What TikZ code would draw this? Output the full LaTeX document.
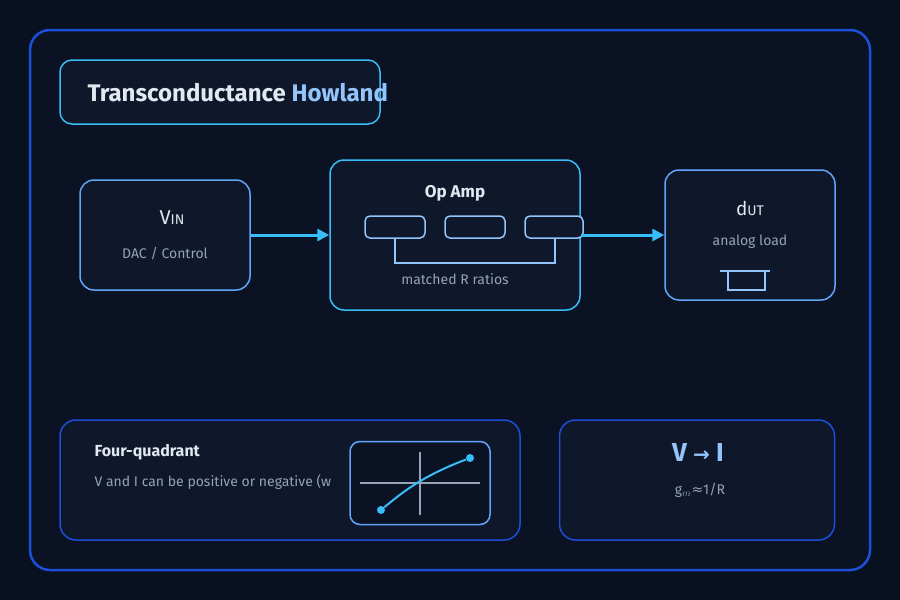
\documentclass[tikz,border=0pt]{standalone}
\usepackage{fontspec}
\setmainfont{Fira Sans}
\newfontfamily\symfont{DejaVu Sans}
\usetikzlibrary{positioning,calc,arrows.meta}
\definecolor{bgdark}{HTML}{08111F}
\definecolor{panel}{HTML}{0B1224}
\definecolor{card}{HTML}{0F172A}
\definecolor{edgeblue}{HTML}{1D4ED8}
\definecolor{sky}{HTML}{38BDF8}
\definecolor{lblue}{HTML}{60A5FA}
\definecolor{pale}{HTML}{93C5FD}
\definecolor{muted}{HTML}{94A3B8}
\definecolor{ink}{HTML}{E2E8F0}
\begin{document}
\begin{tikzpicture}[x=1pt, y=-1pt,
        card/.style={draw=lblue, fill=card, line width=1.5pt, rounded corners=14pt, inner sep=0pt},
        low/.style={draw=edgeblue, fill=card, line width=1.5pt, rounded corners=16pt, inner sep=0pt},
        res/.style={draw=pale, fill=card, line width=1.5pt, rounded corners=5pt, minimum width=60pt, minimum height=22pt, inner sep=0pt},
        head/.style={font=\bfseries\fontsize{17}{17}\selectfont, text=ink},
        sub/.style={font=\fontsize{14}{14}\selectfont, text=muted},
        flow/.style={-{Triangle[length=12pt,width=12pt]}, draw=sky, line width=3pt}
      ]

      \fill[bgdark] (0,0) rectangle (900,600);
      \draw[edgeblue, fill=panel, line width=2.5pt, rounded corners=20pt] (30,30) rectangle (870,570);

      % title
      \node (T) [draw=sky, fill=card, line width=1.5pt, rounded corners=12pt, minimum width=320pt, minimum height=64pt] at (220,92) {};
      \node (TT) [anchor=west, font=\bfseries\fontsize{24}{24}\selectfont, text=ink] at (84,93) {Transconductance \textcolor{pale}{Howland}};

      % signal chain
      \node (Vin) [card, minimum width=170pt, minimum height=110pt] at (165,235) {};
      \node (VinT) [head, font=\fontsize{20}{20}\selectfont] at (172,218) {V\fontsize{14}{14}\selectfont IN};
      \node (VinS) [sub] at (165,254) {DAC / Control};

      \node (OA) [card, draw=sky, minimum width=250pt, minimum height=150pt] at (455,235) {};
      \node (OAT) [head] at (455,193) {Op Amp};
      \node (R1) [res] at (395,227) {};
      \node (R2) [res] at (475,227) {};
      \node (R3) [res, minimum width=58pt] at (554,227) {};
      \draw[pale, line width=1.5pt] (R1.south) -- ++(0,24) -| ($(R3.south)+(1,0)$);
      \node (OAS) [sub] at (455,279) {matched R ratios};

      \node (DUT) [card, minimum width=170pt, minimum height=130pt] at (750,235) {};
      \node (DUTT) [head, font=\fontsize{19}{19}\selectfont] at (750,208) {d\fontsize{14}{14}\selectfont UT};
      \node (DUTS) [sub] at (750,242) {analog load};
      \coordinate (L1) at (720,271);
      \coordinate (L2) at (770,271);
      \draw[pale, line width=2pt] (L1) -- (L2) (728,271) -- (728,290) -- (765,290) -- (765,271);

      \draw[flow] (Vin.east) -- (OA.west);
      \draw[flow] (OA.east) -- (DUT.west);

      % bottom cards
      \node (FQ) [low, minimum width=460pt, minimum height=120pt] at (290,480) {};
      \node (FQT) [head, anchor=west, font=\bfseries\fontsize{16}{16}\selectfont] at (91,452) {Four-quadrant};
      \node (FQS) [sub, anchor=west] at (91,482) {V and I can be positive or negative (w};
      \node (G) [draw=lblue, fill=panel, line width=1.5pt, rounded corners=10pt, minimum width=140pt, minimum height=83pt] at (420,483) {};
      \draw[muted, line width=1.2pt] (360,483) -- (480,483) (420,452) -- (420,515);
      \node (P1) [circle, fill=sky, inner sep=0pt, minimum size=8pt] at (381,510) {};
      \node (P2) [circle, fill=sky, inner sep=0pt, minimum size=8pt] at (470,458) {};
      \draw[sky, line width=2pt] (P1) .. controls (405,490) and (425,475) .. (P2);

      \node (VI) [low, minimum width=275pt, minimum height=120pt] at (697,480) {};
      \node (VIT) [font=\bfseries\fontsize{26}{26}\selectfont, text=pale] at (698,452) {V {\symfont\fontsize{20}{20}\selectfont →} I};
      \node (VIS) [sub] at (700,490) {g$_m${\symfont ≈}1/R};

    \end{tikzpicture}
\end{document}
